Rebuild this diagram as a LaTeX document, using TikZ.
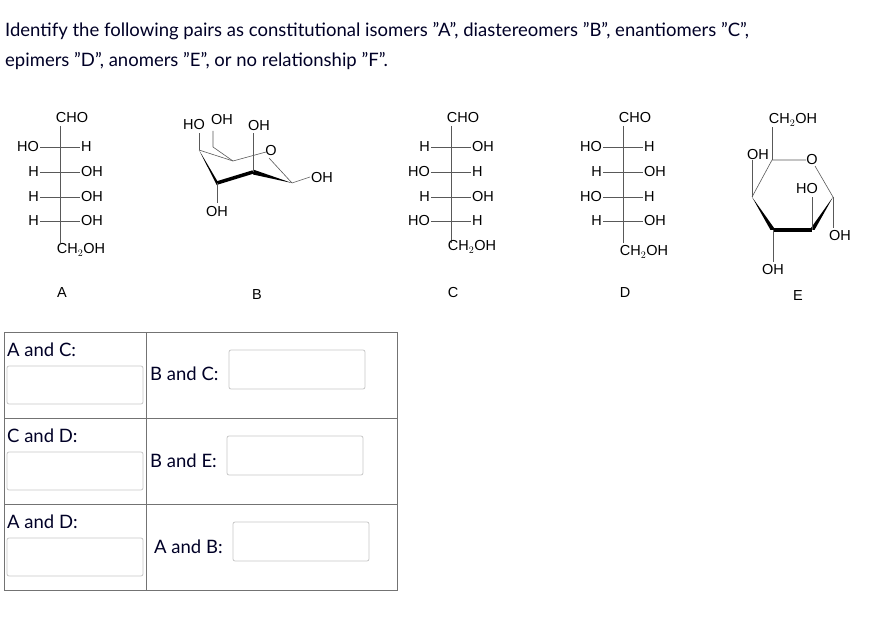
\documentclass[tikz,border=0pt]{standalone}
\usepackage{fontspec}
\usetikzlibrary{calc}
\setmainfont{Lato}
\newfontfamily\chemf{Liberation Sans}
\newcommand{\qq}{\symbol{34}}
\begin{document}
\begin{tikzpicture}[x=1pt,y=-1pt,
  ch/.style={font=\chemf\fontsize{14.5}{15}\selectfont,inner sep=0pt},
  bd/.style={line width=0.6pt,gray!70!black},
  txt/.style={font=\fontsize{18.5}{21}\selectfont,text=black!85!blue,inner sep=0pt},
  ibox/.style={draw=black!22,rounded corners=2pt,line width=0.8pt},
  tline/.style={draw=black!55,line width=0.9pt}]
\useasboundingbox (0,0) rectangle (869,620);
% title
\node[txt,anchor=west] (t1) at (5,31) {Identify the following pairs as constitutional isomers \qq A\qq, diastereomers \qq B\qq, enantiomers \qq C\qq,};
\node[txt,anchor=west] (t2) at (5,61) {epimers \qq D\qq, anomers \qq E\qq, or no relationship \qq F\qq.};
\newcommand{\fisch}[8]{%
 \draw[bd] (#1,126) -- (#1,243);
 \node[ch] (#8cho) at (#1+12,118) {CHO};
 \node[ch] (#8ch) at (#1+21,#7) {CH$_2$OH};
 \node[ch] (#8lab) at (#1+2,293) {#2};
}
\newcommand{\frow}[4]{%
 \draw[bd] (#1-20,#2) -- (#1+20,#2);
 \node[ch,anchor=east] at (#1-21,#2) {#3};
 \node[ch,anchor=west] at (#1+21,#2) {#4};
}
% A
\fisch{60}{A}{}{}{}{}{250}{a}
\frow{60}{147}{HO}{H}\frow{60}{172}{H}{OH}\frow{60}{197}{H}{OH}\frow{60}{221}{H}{OH}
% C
\fisch{451}{C}{}{}{}{}{247}{c}
\frow{451}{147}{H}{OH}\frow{451}{172}{HO}{H}\frow{451}{197}{H}{OH}\frow{451}{221}{HO}{H}
% D
\fisch{623}{D}{}{}{}{}{252}{d}
\frow{623}{147}{HO}{H}\frow{623}{172}{H}{OH}\frow{623}{197}{HO}{H}\frow{623}{221}{H}{OH}
% B
\coordinate (b4) at (199,150); \coordinate (b5) at (233,161); \coordinate (bO) at (266,152);
\coordinate (b1) at (292,183); \coordinate (b2) at (253,172); \coordinate (b3) at (217,183);
\draw[bd] (b4) -- (b5) -- (bO);
\draw[bd] (b1) -- (269,158);
\node[ch] (bo) at (271,151) {O};
\fill (b4) -- ($(b3)+(0,-2.5)$) -- ($(b3)+(0,2.5)$) -- cycle;
\draw[line width=3.5pt] (b3) -- (b2);
\fill (b1) -- ($(b2)+(0,-2.5)$) -- ($(b2)+(0,2.5)$) -- cycle;
\draw[bd] (b4) -- (199,133); \node[ch] (bho) at (194,125) {HO};
\draw[bd] (b5) -- (213,147) -- (213,131); \node[ch] (boh1) at (222,120) {OH};
\draw[bd] (b2) -- (253,133); \node[ch] (boh2) at (259,126) {OH};
\draw[bd] (b1) -- (310,177); \node[ch,anchor=west] (boh3) at (311,178) {OH};
\draw[bd] (b3) -- (217,203); \node[ch] (boh4) at (217,212) {OH};
\node[ch] (blab) at (257,295) {B};
% E
\coordinate (e5) at (772,160); \coordinate (eO) at (812,160); \coordinate (e1) at (833,197);
\coordinate (e2) at (812,230); \coordinate (e3) at (773,230); \coordinate (e4) at (752,197);
\draw[bd] (e4) -- (e5) -- (806,160);
\draw[bd] (e1) -- (815,166);
\node[ch] (eo) at (812,160) {O};
\fill (e4) -- ($(e3)+(-2.5,0)$) -- ($(e3)+(2.5,0)$) -- cycle;
\draw[line width=3.5pt] (e3) -- (e2);
\fill (e1) -- ($(e2)+(-2.5,0)$) -- ($(e2)+(2.5,0)$) -- cycle;
\draw[bd] (e5) -- (772,127); \node[ch] (ech) at (793,120) {CH$_2$OH};
\draw[bd] (e4) -- (752,160); \node[ch] (eoh1) at (758,155) {OH};
\draw[bd] (e2) -- (812,197); \node[ch] (eho) at (807,189) {HO};
\draw[bd] (e1) -- (833,228); \node[ch] (eoh2) at (840,236) {OH};
\draw[bd] (e3) -- (773,262); \node[ch] (eoh3) at (773,270) {OH};
\node[ch] (elab) at (798,296) {E};
% table
\draw[tline] (4,332) rectangle (397,590);
\draw[tline] (146,332) -- (146,590);
\draw[tline] (4,418.5) -- (397,418.5);
\draw[tline] (4,504.5) -- (397,504.5);
\node[txt,anchor=west] (q1) at (7,350) {A and C:};
\draw[ibox] (7,366) rectangle (143,404);
\node[txt,anchor=west] (q2) at (150,374) {B and C:};
\draw[ibox] (229,350) rectangle (365,389);
\node[txt,anchor=west] (q3) at (7,436) {C and D:};
\draw[ibox] (7,452) rectangle (143,490);
\node[txt,anchor=west] (q4) at (150,461) {B and E:};
\draw[ibox] (227,436) rectangle (363,475);
\node[txt,anchor=west] (q5) at (7,522) {A and D:};
\draw[ibox] (7,538) rectangle (143,576);
\node[txt,anchor=west] (q6) at (154,547) {A and B:};
\draw[ibox] (233,522) rectangle (369,561);
\end{tikzpicture}
\end{document}
